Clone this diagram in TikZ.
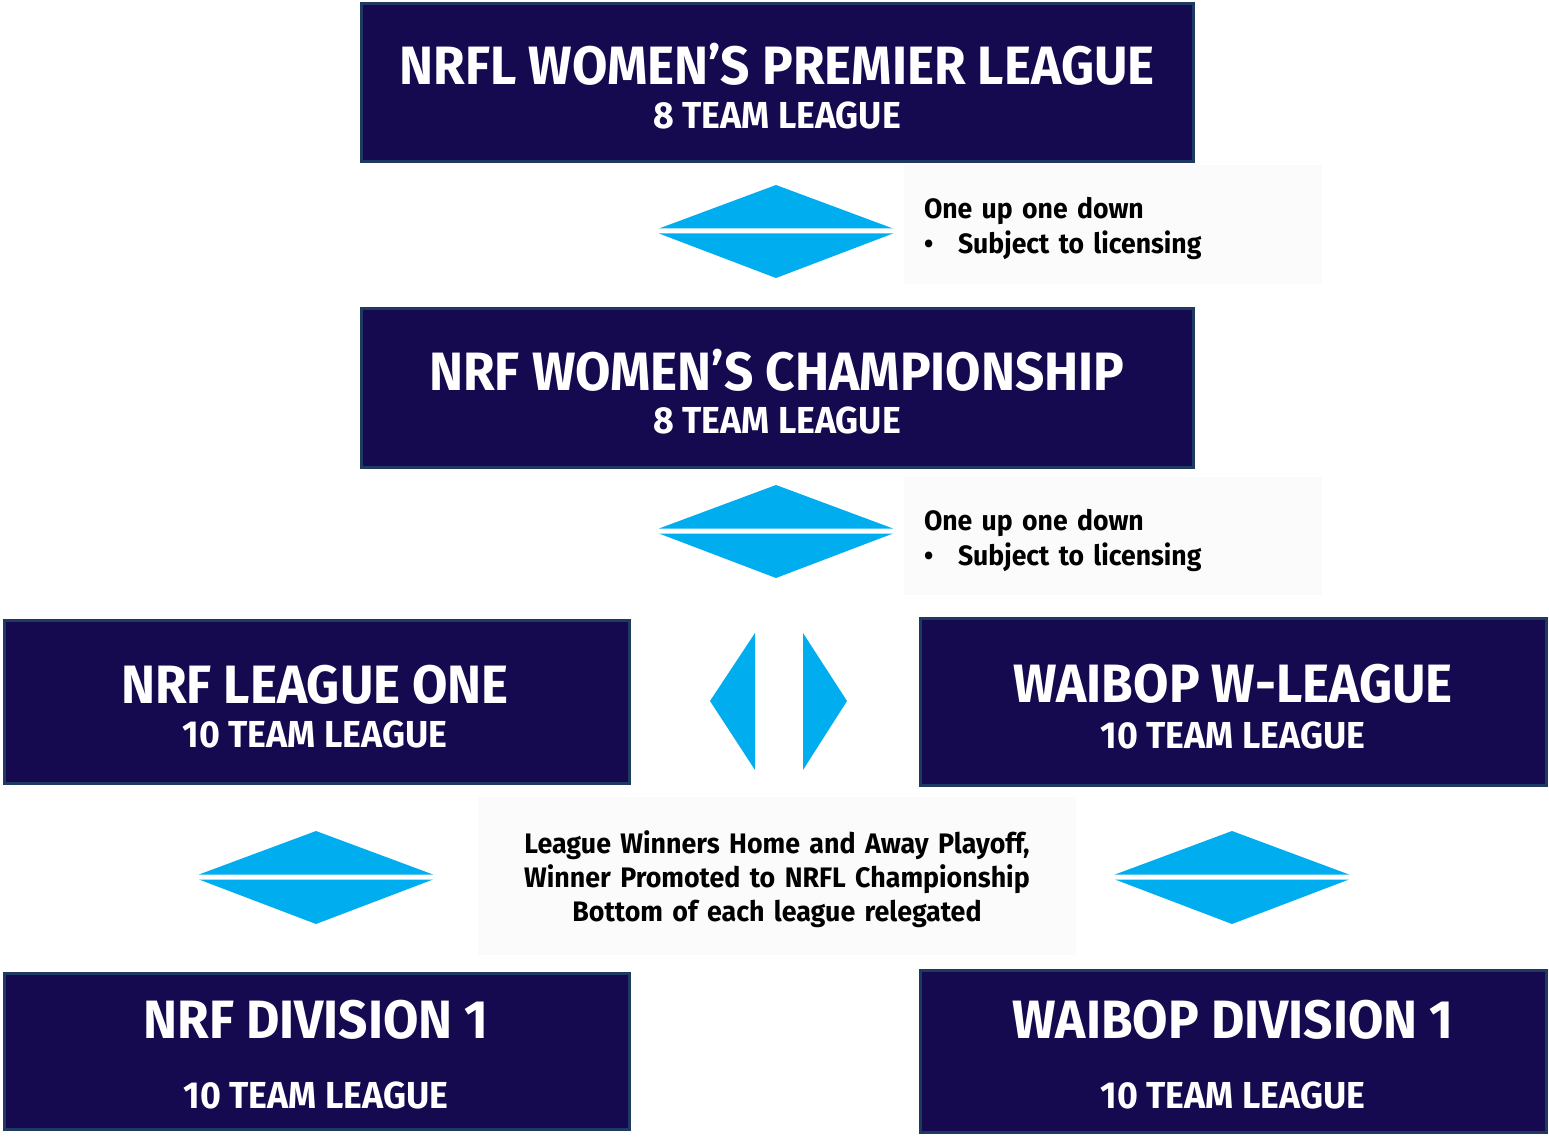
\documentclass[tikz,border=0pt]{standalone}
\usepackage{fontspec}
\setmainfont[FakeStretch=0.95]{Fira Sans}
\usetikzlibrary{positioning}
\definecolor{navy}{HTML}{150A50}
\definecolor{navyline}{HTML}{1F3A60}
\definecolor{swapblue}{HTML}{00ADEE}
\definecolor{notegray}{HTML}{FBFBFB}

\begin{document}
\begin{tikzpicture}[x=0.5pt,y=-0.5pt,
  league node/.style={rectangle,fill=navy,draw=navyline,line width=1.5pt,inner sep=0pt},
  title text/.style={text=white,font=\fontsize{27}{30}\selectfont\bfseries,inner sep=0pt,text depth=0pt},
  sub text/.style={text=white,font=\fontsize{18.8}{20}\selectfont\bfseries,inner sep=0pt,text depth=0pt},
  note node/.style={rectangle,fill=notegray,inner sep=0pt,font=\fontsize{14}{17.5}\selectfont\bfseries},
  swap/.style={fill=swapblue}]

  \useasboundingbox (0,0) rectangle (1549,1139);

  % league boxes
  \node[league node,minimum width=416pt,minimum height=79pt] (1) at (777,83) {};
  \node[league node,minimum width=416pt,minimum height=79.5pt] (2) at (777,388.5) {};
  \node[league node,minimum width=312.5pt,minimum height=81.5pt] (3) at (316.5,701.5) {};
  \node[league node,minimum width=313pt,minimum height=83.5pt] (4) at (1233,701.5) {};
  \node[league node,minimum width=312.5pt,minimum height=78pt] (5) at (316.5,1051) {};
  \node[league node,minimum width=313pt,minimum height=81pt] (6) at (1233,1051) {};

  \node[title text] (1t) at (777,63.5) {NRFL WOMEN’S PREMIER LEAGUE};
  \node[sub text] (1s) at (777,115) {8 TEAM LEAGUE};
  \node[title text] (2t) at (777,369.5) {NRF WOMEN’S CHAMPIONSHIP};
  \node[sub text] (2s) at (777,420.5) {8 TEAM LEAGUE};
  \node[title text] (3t) at (315,684) {NRF LEAGUE ONE};
  \node[sub text] (3s) at (315,734) {10 TEAM LEAGUE};
  \node[title text] (4t) at (1233,683) {WAIBOP W-LEAGUE};
  \node[sub text] (4s) at (1233,735) {10 TEAM LEAGUE};
  \node[title text] (5t) at (316,1019.5) {NRF DIVISION 1};
  \node[sub text] (5s) at (316,1095.5) {10 TEAM LEAGUE};
  \node[title text] (6t) at (1233,1019.5) {WAIBOP DIVISION 1};
  \node[sub text] (6s) at (1233,1095.5) {10 TEAM LEAGUE};

  % notes
  \node[note node,minimum width=209pt,minimum height=59.5pt,text width=189pt,align=left] (n1) at (1113,224.5)
    {\rule{0pt}{15pt}One up one down\\\makebox[17pt][l]{\textbullet}Subject to licensing};
  \node[note node,minimum width=209pt,minimum height=59pt,text width=189pt,align=left] (n2) at (1113,536)
    {\rule{0pt}{15pt}One up one down\\\makebox[17pt][l]{\textbullet}Subject to licensing};
  \node[note node,minimum width=299pt,minimum height=79pt,text width=280pt,align=center,
    font=\fontsize{14.1}{17}\selectfont\bfseries] (n3) at (777,876)
    {\rule{0pt}{15pt}League Winners Home and Away Playoff,\\Winner Promoted to NRFL Championship\\Bottom of each league relegated};

  % up and down arrows
  \foreach \cx/\cy in {776/231, 776/531, 316/877, 1232/877} {
    \fill[swap] (\cx-117,\cy-2.5) -- (\cx,\cy-46) -- (\cx+117,\cy-2.5) -- cycle;
    \fill[swap] (\cx-117,\cy+2.5) -- (\cx,\cy+47) -- (\cx+117,\cy+2.5) -- cycle;
  }
  \fill[swap] (755,633) -- (710,701) -- (755,770) -- cycle;
  \fill[swap] (803,633) -- (847,701) -- (803,770) -- cycle;

\end{tikzpicture}
\end{document}
